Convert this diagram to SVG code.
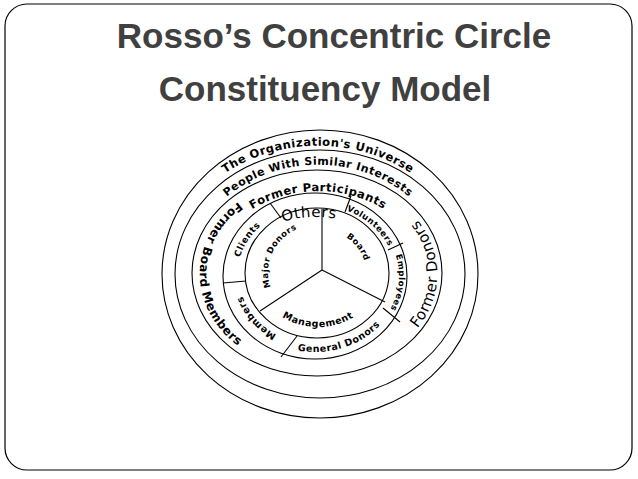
<svg xmlns="http://www.w3.org/2000/svg" width="638" height="479" viewBox="0 0 638 479">
<style>
.ring{fill:none;stroke:#000;stroke-width:1.1}
.l{font-family:"DejaVu Sans",sans-serif;fill:#000;letter-spacing:0.5px}
.title{font-family:"Liberation Sans",Arial,sans-serif;font-weight:bold;font-size:35px;fill:#404040;text-anchor:middle}
</style>
<defs>
<path id="pU" d="M173,241 A150,128 0 0 1 463,241"/>
<path id="pP" d="M194,246 A128,108 0 0 1 442,246"/>
<path id="pFP" d="M215,252 A108,87 0 0 1 421,252"/>
<path id="pFB" d="M250,194 A119,98 0 0 0 250,354"/>
<path id="pFD" d="M377.5,359 A119,98 0 0 0 377.5,189"/>
<path id="pO" d="M245.7,246.5 A80,59 0 0 1 376.3,238"/>
<path id="pC" d="M237.3,282.1 A78,70 0 0 1 282,212.6"/>
<path id="pV" d="M328.9,206 A81,71 0 0 1 394.8,263.8"/>
<path id="pE" d="M383.8,233 A84,75 0 0 1 374.4,329"/>
<path id="pG" d="M266.2,338.2 A85,76 0 0 0 397.1,295.7"/>
<path id="pM" d="M295.3,341.7 A76,68 0 0 1 239,276"/>
<path id="pMD" d="M275,296 A52,48 0 0 1 306.5,225.6"/>
<path id="pB" d="M336.4,232.6 A46,42 0 0 1 366,272"/>
<path id="pMg" d="M270.5,307.4 A62,55 0 0 0 365.5,307.4"/>
</defs>
<rect x="5" y="4" width="627" height="466" rx="22" fill="#fff" stroke="#000" stroke-width="1.2"/>
<g id="title">
<text class="title" x="334" y="48">Rosso’s Concentric Circle</text>
<text class="title" x="325" y="101">Constituency Model</text>
</g>
<g id="rings">
<ellipse class="ring" cx="320" cy="274" rx="158" ry="144"/>
<ellipse class="ring" cx="320" cy="274" rx="145" ry="124"/>
<ellipse class="ring" cx="317" cy="273" rx="125" ry="103"/>
<ellipse class="ring" cx="315" cy="276" rx="92" ry="83"/>
<ellipse class="ring" cx="317" cy="273" rx="72" ry="65"/>
</g>
<g id="connectors" stroke="#000" stroke-width="1.1">
<line x1="322" y1="270" x2="322" y2="209"/>
<line x1="322" y1="270" x2="260" y2="311"/>
<line x1="322" y1="270" x2="385" y2="302"/>
<line x1="270" y1="203" x2="281" y2="218"/>
<line x1="351" y1="196" x2="345" y2="212"/>
<line x1="388" y1="250" x2="403" y2="243"/>
<line x1="383" y1="308" x2="400" y2="322"/>
<line x1="297" y1="336" x2="281" y2="357"/>
<line x1="223" y1="283" x2="246" y2="281"/>
</g>
<g id="labels" text-anchor="middle">
<text class="l" font-size="11.5" font-weight="bold" letter-spacing="1.6"><textPath href="#pU" startOffset="50%">The Organization's Universe</textPath></text>
<text class="l" font-size="11" font-weight="bold" letter-spacing="1.4"><textPath href="#pP" startOffset="50%">People With Similar Interests</textPath></text>
<text class="l" font-size="11.5" font-weight="bold" letter-spacing="1.5"><textPath href="#pFP" startOffset="50%">Former Participants</textPath></text>
<text class="l" font-size="12" font-weight="bold" letter-spacing="1.2"><textPath href="#pFB" startOffset="50%">Former Board Members</textPath></text>
<text class="l" font-size="15" letter-spacing="1.2"><textPath href="#pFD" startOffset="50%">Former Donors</textPath></text>
<text class="l" font-size="15" letter-spacing="1"><textPath href="#pO" startOffset="50%">Others</textPath></text>
<text class="l" font-size="9" font-weight="bold"><textPath href="#pC" startOffset="50%">Clients</textPath></text>
<text class="l" font-size="8.5" font-weight="bold" letter-spacing="0.3"><textPath href="#pV" startOffset="50%">Volunteers</textPath></text>
<text class="l" font-size="8.5" font-weight="bold" letter-spacing="0.3"><textPath href="#pE" startOffset="50%">Employees</textPath></text>
<text class="l" font-size="9.5" font-weight="bold"><textPath href="#pG" startOffset="50%">General Donors</textPath></text>
<text class="l" font-size="9.5" font-weight="bold"><textPath href="#pM" startOffset="50%">Members</textPath></text>
<text class="l" font-size="8.5" font-weight="bold"><textPath href="#pMD" startOffset="50%">Major Donors</textPath></text>
<text class="l" font-size="8.5" font-weight="bold"><textPath href="#pB" startOffset="50%">Board</textPath></text>
<text class="l" font-size="9.5" font-weight="bold"><textPath href="#pMg" startOffset="50%">Management</textPath></text>
</g>
</svg>
